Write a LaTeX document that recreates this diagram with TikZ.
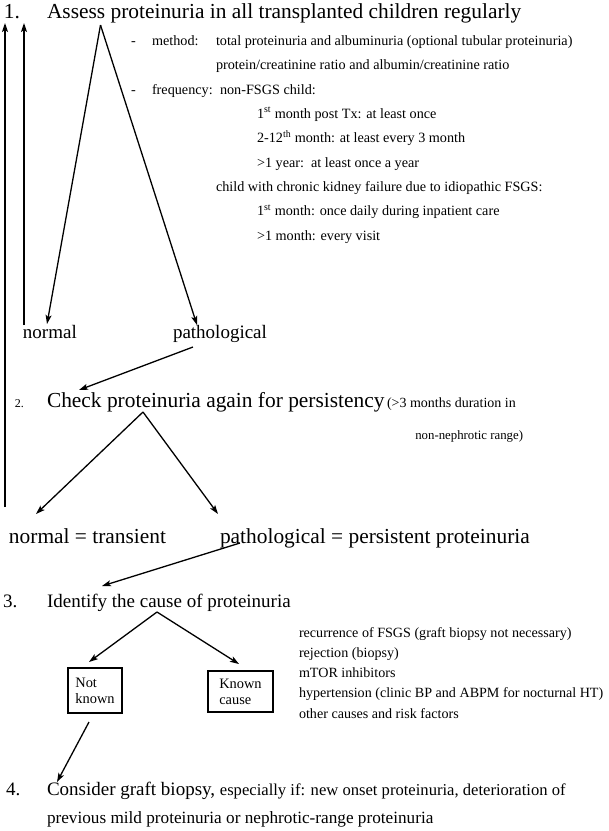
\documentclass[tikz,border=0pt]{standalone}
\usepackage{fontspec}
\setmainfont{Liberation Serif}
\usetikzlibrary{arrows.meta}
\begin{document}
\begin{tikzpicture}[x=1pt,y=-1pt,
  txt/.style={anchor=base west,inner sep=0pt,outer sep=0pt},
  big/.style={txt,font=\fontsize{21.4}{24}\selectfont},
  mid/.style={txt,font=\fontsize{19}{22}\selectfont},
  sml/.style={txt,font=\fontsize{14.2}{17}\selectfont},
  lst/.style={txt,font=\fontsize{14.1}{17}\selectfont},
  arr/.style={-{Stealth[length=9pt,width=6pt,inset=2pt]},line width=1.3pt},
  box/.style={draw,line width=1.3pt,inner sep=0pt,align=left,font=\fontsize{14.4}{16}\selectfont}
]
\useasboundingbox (0,0) rectangle (609,831);

% ---------- step 1 ----------
\node[big] (n1) at (4,18) {1.};
\node[big] (t1) at (47,18) {Assess proteinuria in all transplanted children regularly};

\node[sml] (d1) at (131,45) {-};
\node[sml] (m1) at (152,45) {method:};
\node[sml] (m2) at (216,45) {total proteinuria and albuminuria (optional tubular proteinuria)};
\node[sml] (m3) at (216,69.5) {protein/creatinine ratio and albumin/creatinine ratio};
\node[sml] (d2) at (131,94) {-};
\node[sml] (f1) at (152,94) {frequency:};
\node[sml] (f2) at (220,94) {non-FSGS child:};
\node[sml] (f3) at (257,118) {1\textsuperscript{st} month post Tx: at least once};
\node[sml] (f4) at (257,142.5) {2-12\textsuperscript{th} month: at least every 3 month};
\node[sml] (f5) at (257,167) {>1 year:\ \ at least once a year};
\node[sml] (f6) at (216,191) {child with chronic kidney failure due to idiopathic FSGS:};
\node[sml] (f7) at (257,215.5) {1\textsuperscript{st} month: once daily during inpatient care};
\node[sml] (f8) at (257,240) {>1 month: every visit};

\node[mid] (nor) at (23,338) {normal};
\node[mid] (pat) at (173,338) {pathological};

\coordinate (a1) at (100.5,25);
\coordinate (a1l) at (47,324);
\coordinate (a1r) at (197,325);
\draw[arr] (a1) -- (a1l);
\draw[arr] (a1) -- (a1r);

\coordinate (upib) at (24,325);
\coordinate (upit) at (24,23);
\coordinate (upob) at (5,507);
\coordinate (upot) at (5,23);
\draw[arr] (upib) -- (upit);
\draw[arr] (upob) -- (upot);

% ---------- step 2 ----------
\coordinate (p1s) at (193,347);
\coordinate (p1e) at (79,390);
\draw[arr] (p1s) -- (p1e);

\node[txt,font=\fontsize{12}{14}\selectfont] (n2) at (15,407) {2.};
\node[big] (t2) at (47,407) {Check proteinuria again for persistency};
\node[txt,font=\fontsize{14}{16}\selectfont] (t2a) at (387,407) {(>3 months duration in};
\node[txt,font=\fontsize{12.8}{15}\selectfont,anchor=base east] (t2b) at (523,439) {non-nephrotic range)};

\coordinate (a2) at (143,412);
\coordinate (a2l) at (36,514);
\coordinate (a2r) at (218,514);
\draw[arr] (a2) -- (a2l);
\draw[arr] (a2) -- (a2r);

\node[big] (tr) at (9,543) {normal = transient};
\node[big] (ps) at (220,543) {pathological = persistent proteinuria};

% ---------- step 3 ----------
\coordinate (p2s) at (240,543);
\coordinate (p2e) at (102,586);
\draw[arr] (p2s) -- (p2e);

\node[mid] (n3) at (3,607) {3.};
\node[mid] (t3) at (47,607) {Identify the cause of proteinuria};

\coordinate (a3) at (157,612);
\coordinate (a3l) at (89,662);
\coordinate (a3r) at (239,664);
\draw[arr] (a3) -- (a3l);
\draw[arr] (a3) -- (a3r);

\node[box,minimum width=54pt,minimum height=45pt] (nk) at (95,690.5) {Not\\known};
\node[box,minimum width=65pt,minimum height=41pt] (kc) at (240.5,691.5) {Known\\cause};

\node[lst] (c1) at (299,637) {recurrence of FSGS (graft biopsy not necessary)};
\node[lst] (c2) at (299,657) {rejection (biopsy)};
\node[lst] (c3) at (299,677) {mTOR inhibitors};
\node[lst] (c4) at (299,697) {hypertension (clinic BP and ABPM for nocturnal HT)};
\node[lst] (c5) at (299,718) {other causes and risk factors};

% ---------- step 4 ----------
\coordinate (p3s) at (89,722);
\coordinate (p3e) at (57,782);
\draw[arr] (p3s) -- (p3e);

\node[mid] (n4) at (6,795) {4.};
\node[mid] (t4) at (47,795) {Consider graft biopsy, {\fontsize{16.6}{20}\selectfont especially if: new onset proteinuria, deterioration of}};
\node[txt,font=\fontsize{17.2}{20}\selectfont] (t4b) at (47,823) {previous mild proteinuria or nephrotic-range proteinuria};
\end{tikzpicture}
\end{document}
